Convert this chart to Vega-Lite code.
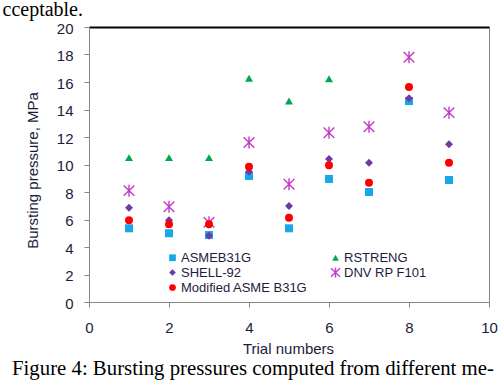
{
  "$schema": "https://vega.github.io/schema/vega-lite/v6.json",
  "width": 400,
  "height": 275,
  "autosize": {"type": "none"},
  "padding": {"left": 89, "top": 27, "right": 11, "bottom": 80},
  "background": "white",
  "config": {"view": {"stroke": "#868686", "strokeWidth": 1}, "font": "Liberation Sans"},
  "title": {
    "text": "Figure 4: Bursting pressures computed from different me-",
    "orient": "bottom", "anchor": "start", "frame": "group", "dx": -77, "offset": 19,
    "baseline": "alphabetic", "font": "Liberation Serif", "fontSize": 20.8, "fontWeight": "normal", "color": "black"
  },
  "data": {"values": [
    {"trial": 1, "method": "ASMEB31G", "pressure": 5.36},
    {"trial": 2, "method": "ASMEB31G", "pressure": 5.0},
    {"trial": 3, "method": "ASMEB31G", "pressure": 4.87},
    {"trial": 4, "method": "ASMEB31G", "pressure": 9.16},
    {"trial": 5, "method": "ASMEB31G", "pressure": 5.36},
    {"trial": 6, "method": "ASMEB31G", "pressure": 8.95},
    {"trial": 7, "method": "ASMEB31G", "pressure": 8.0},
    {"trial": 8, "method": "ASMEB31G", "pressure": 14.62},
    {"trial": 9, "method": "ASMEB31G", "pressure": 8.87},
    {"trial": 1, "method": "RSTRENG", "pressure": 10.5},
    {"trial": 2, "method": "RSTRENG", "pressure": 10.5},
    {"trial": 3, "method": "RSTRENG", "pressure": 10.5},
    {"trial": 4, "method": "RSTRENG", "pressure": 16.27},
    {"trial": 5, "method": "RSTRENG", "pressure": 14.62},
    {"trial": 6, "method": "RSTRENG", "pressure": 16.24},
    {"trial": 1, "method": "SHELL-92", "pressure": 6.86},
    {"trial": 2, "method": "SHELL-92", "pressure": 5.94},
    {"trial": 3, "method": "SHELL-92", "pressure": 4.82},
    {"trial": 4, "method": "SHELL-92", "pressure": 9.48},
    {"trial": 5, "method": "SHELL-92", "pressure": 6.98},
    {"trial": 6, "method": "SHELL-92", "pressure": 10.4},
    {"trial": 7, "method": "SHELL-92", "pressure": 10.13},
    {"trial": 8, "method": "SHELL-92", "pressure": 14.81},
    {"trial": 9, "method": "SHELL-92", "pressure": 11.47},
    {"trial": 1, "method": "DNV RP F101", "pressure": 8.1},
    {"trial": 2, "method": "DNV RP F101", "pressure": 6.93},
    {"trial": 3, "method": "DNV RP F101", "pressure": 5.8},
    {"trial": 4, "method": "DNV RP F101", "pressure": 11.6},
    {"trial": 5, "method": "DNV RP F101", "pressure": 8.56},
    {"trial": 6, "method": "DNV RP F101", "pressure": 12.31},
    {"trial": 7, "method": "DNV RP F101", "pressure": 12.75},
    {"trial": 8, "method": "DNV RP F101", "pressure": 17.8},
    {"trial": 9, "method": "DNV RP F101", "pressure": 13.77},
    {"trial": 1, "method": "Modified ASME B31G", "pressure": 5.94},
    {"trial": 2, "method": "Modified ASME B31G", "pressure": 5.65},
    {"trial": 3, "method": "Modified ASME B31G", "pressure": 5.65},
    {"trial": 4, "method": "Modified ASME B31G", "pressure": 9.84},
    {"trial": 5, "method": "Modified ASME B31G", "pressure": 6.13},
    {"trial": 6, "method": "Modified ASME B31G", "pressure": 9.94},
    {"trial": 7, "method": "Modified ASME B31G", "pressure": 8.68},
    {"trial": 8, "method": "Modified ASME B31G", "pressure": 15.64},
    {"trial": 9, "method": "Modified ASME B31G", "pressure": 10.13}
  ]},
  "layer": [
    {
      "mark": {"type": "point", "filled": true, "opacity": 1, "size": 64, "strokeWidth": 1.4},
      "encoding": {
        "x": {"field": "trial", "type": "quantitative", "scale": {"domain": [0, 10]},
          "axis": {"title": "Trial numbers", "values": [0, 2, 4, 6, 8, 10], "grid": false, "labelFlush": false,
            "domainColor": "#868686", "tickColor": "#868686", "tickSize": 5,
            "labelFont": "Liberation Sans", "labelFontSize": 15, "labelColor": "#1c1c3c",
            "labelBaseline": "alphabetic", "labelPadding": 25,
            "titleFont": "Liberation Sans", "titleFontSize": 15, "titleFontWeight": "normal", "titleColor": "#1c1c3c",
            "titleX": 199, "titleY": 51, "titleBaseline": "alphabetic"}},
        "y": {"field": "pressure", "type": "quantitative", "scale": {"domain": [0, 20]},
          "axis": {"title": "Bursting pressure, MPa", "values": [0, 2, 4, 6, 8, 10, 12, 14, 16, 18, 20], "grid": false,
            "domainColor": "#868686", "tickColor": "#868686", "tickSize": 5,
            "labelFont": "Liberation Sans", "labelFontSize": 15, "labelColor": "#1c1c3c", "labelPadding": 11, "labelOffset": 1,
            "titleFont": "Liberation Sans", "titleFontSize": 15, "titleFontWeight": "normal", "titleColor": "#1c1c3c",
            "titleX": -52, "titleY": 143, "titleBaseline": "alphabetic", "titleAngle": -90}},
        "fill": {"field": "method", "type": "nominal",
          "scale": {"domain": ["ASMEB31G", "SHELL-92", "Modified ASME B31G", "RSTRENG", "DNV RP F101"],
            "range": ["#18A8E8", "#6E3AA8", "#FF0000", "#00A84F", "#C43CC4"]},
          "legend": {"title": null, "orient": "none", "legendX": 77, "legendY": 224, "columns": 2, "columnPadding": 20, "rowPadding": -1,
            "labelFont": "Liberation Sans", "labelFontSize": 13, "labelColor": "#1c1c3c", "symbolSize": 45, "labelOffset": 2,
            "padding": 0, "symbolStrokeWidth": 1.4, "symbolOpacity": 1}},
        "stroke": {"field": "method", "type": "nominal",
          "scale": {"domain": ["ASMEB31G", "SHELL-92", "Modified ASME B31G", "RSTRENG", "DNV RP F101"],
            "range": ["transparent", "transparent", "transparent", "transparent", "#C43CC4"]},
          "legend": {"title": null, "orient": "none", "legendX": 77, "legendY": 224, "columns": 2, "columnPadding": 20, "rowPadding": -1,
            "labelFont": "Liberation Sans", "labelFontSize": 13, "labelColor": "#1c1c3c", "symbolSize": 45, "labelOffset": 2,
            "padding": 0, "symbolStrokeWidth": 1.4, "symbolOpacity": 1}},
        "shape": {"field": "method", "type": "nominal",
          "scale": {"domain": ["ASMEB31G", "SHELL-92", "Modified ASME B31G", "RSTRENG", "DNV RP F101"],
            "range": ["square", "diamond", "circle", "triangle-up", "M-1.35,-1.3L1.35,1.3M1.35,-1.3L-1.35,1.3M0,-1.5L0,1.5"]},
          "legend": {"title": null, "orient": "none", "legendX": 77, "legendY": 224, "columns": 2, "columnPadding": 20, "rowPadding": -1,
            "labelFont": "Liberation Sans", "labelFontSize": 13, "labelColor": "#1c1c3c", "symbolSize": 45, "labelOffset": 2,
            "padding": 0, "symbolStrokeWidth": 1.4, "symbolOpacity": 1}}
      }
    },
    {
      "mark": {"type": "point", "opacity": 0},
      "encoding": {
        "x": {"field": "trial", "type": "quantitative",
          "axis": {"orient": "top", "labels": false, "ticks": false, "grid": false, "domainColor": "black", "domainWidth": 2,
            "title": "cceptable.", "titleFont": "Liberation Serif", "titleFontSize": 20, "titleFontWeight": "normal", "titleColor": "black",
            "titleX": -87, "titleY": -12, "titleAlign": "left", "titleBaseline": "alphabetic", "titleAngle": 0}}
      }
    }
  ],
  "resolve": {"axis": {"x": "independent"}}
}
